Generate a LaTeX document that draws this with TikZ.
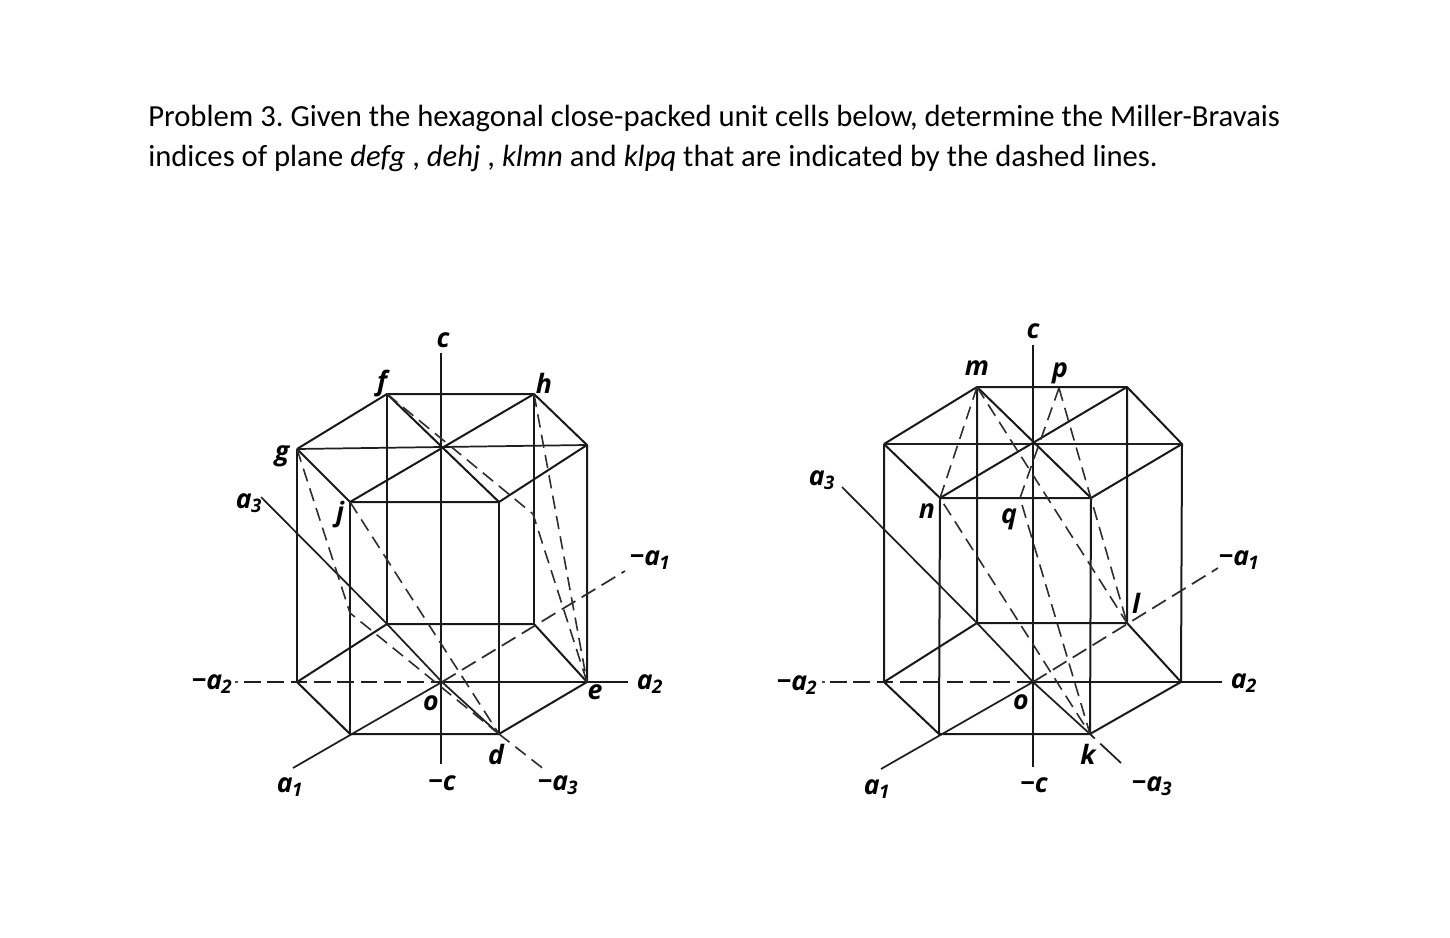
\documentclass[tikz,border=0pt]{standalone}
\usepackage{fontspec}
\setmainfont{Carlito}
\newfontfamily\lblfont[ItalicFont={Open Sans Bold Italic},BoldItalicFont={Open Sans Bold Italic}]{Open Sans}
\newcommand{\axl}[2]{{\lblfont\itshape\fontsize{20pt}{22pt}\selectfont #1\textsubscript{\kern-0.5pt#2}}}
\frenchspacing
\begin{document}
\begin{tikzpicture}[x=0.75pt,y=-0.75pt,
  edge/.style={line width=1.5pt,color=black!90,line join=miter},
  thin edge/.style={line width=1.3pt,color=black!88},
  dash edge/.style={line width=1.2pt,color=black!82,dash pattern=on 10pt off 5.5pt},
  long dash/.style={line width=1.3pt,color=black!82,dash pattern=on 12pt off 5.5pt},
  axis dash/.style={line width=1.4pt,color=black!88,dash pattern=on 12.5pt off 5pt},
  lbl/.style={inner sep=0pt,font=\fontsize{20pt}{22pt}\selectfont\lblfont\itshape},
  title line/.style={anchor=base west,inner sep=0pt,font=\fontsize{23pt}{27pt}\selectfont}]
\useasboundingbox (0,0) rectangle (1450,938);
\fill[white] (0,0) rectangle (1450,938);
\node[title line] (t1) at (148,127) {Problem 3. Given the hexagonal close-packed unit cells below, determine the Miller-Bravais};
\node[title line] (t2) at (148,167) {indices of plane \textit{defg} , \textit{dehj} , \textit{klmn} and \textit{klpq} that are indicated by the dashed lines.};

% ---- left cell
\coordinate (f) at (387,394); \coordinate (h) at (534,394);
\coordinate (g) at (297,449); \coordinate (tr) at (587,445);
\coordinate (j) at (350,502); \coordinate (tf) at (499,502);
\coordinate (tc) at (442,447);
\coordinate (bl) at (387,624); \coordinate (br) at (534,624);
\coordinate (bg) at (297,682); \coordinate (o) at (442,682); \coordinate (e) at (587,682);
\coordinate (bj) at (350,734); \coordinate (d) at (499,734);
\coordinate (ct) at (441,353); \coordinate (cb) at (441,764);
\coordinate (a1e) at (293,768); \coordinate (a2e) at (628,682);
\coordinate (ma2) at (244,682); \coordinate (ma2d) at (235,682); \coordinate (ma2f) at (238,682);
\coordinate (ma1) at (625,571); \coordinate (a3e) at (261,497); \coordinate (ma3) at (545,770);
\coordinate (fb) at (533,514); \coordinate (gb) at (350,613);

\draw[edge] (g) -- (f) -- (h) -- (tr) -- (e);
\draw[edge] (g) -- (j) -- (tf) -- (tr);
\draw[thin edge] (g) -- (tr);
\draw[edge] (f) -- (tf) (j) -- (h);
\draw[edge] (g) -- (bg) (f) -- (bl) (h) -- (br) (j) -- (bj) (tf) -- (d);
\draw[edge] (bl) -- (br) -- (e) -- (d) -- (bj) -- (bg) -- (bl);
\draw[edge] (ct) -- (cb);
\draw[edge] (o) -- (a2e);
\draw[thin edge] (a1e) -- (o);
\draw[thin edge] (a3e) -- (bl) -- (o) -- (d);
\draw[axis dash] (ma2) -- (o);
\draw[line width=0.8pt,color=black!70] (ma2d) -- (ma2f);
\draw[long dash] (o) -- (ma1);
\draw[dash edge] (d) -- (ma3);
\draw[dash edge] (f) -- (fb) -- (e);
\draw[dash edge] (h) -- (e);
\draw[dash edge] (g) -- (gb) -- (d);
\draw[dash edge] (j) -- (d);

\node[lbl] (Lc) at (443,340) {c};
\node[lbl] (Lf) at (382,384) {f};
\node[lbl] (Lh) at (544,383) {h};
\node[lbl] (Lg) at (282,456) {g};
\node[lbl] (Lj) at (340,515) {j};
\node[lbl] (La3) at (249,503) {\axl{a}{3}};
\node[lbl] (Lma1) at (650,560) {\axl{−a}{1}};
\node[lbl] (Lma2) at (212,684) {\axl{−a}{2}};
\node[lbl] (La2) at (650,684) {\axl{a}{2}};
\node[lbl] (Lo) at (431,703) {o};
\node[lbl] (Le) at (595,692) {e};
\node[lbl] (Ld) at (496,754) {d};
\node[lbl] (La1) at (290,787) {\axl{a}{1}};
\node[lbl] (Lmc) at (442,783) {−c};
\node[lbl] (Lma3) at (558,785) {\axl{−a}{3}};

% ---- right cell
\coordinate (m) at (977,387); \coordinate (r1) at (1127,387);
\coordinate (r2) at (884,444); \coordinate (r3) at (1182,444);
\coordinate (n) at (940,498); \coordinate (r4) at (1091,498);
\coordinate (rc) at (1033,444);
\coordinate (r5) at (977,623); \coordinate (l) at (1127,623);
\coordinate (r6) at (884,682); \coordinate (ro) at (1033,682); \coordinate (r7) at (1181,682);
\coordinate (r8) at (939,734); \coordinate (k) at (1090,734);
\coordinate (rct) at (1033,345); \coordinate (rcb) at (1033,767);
\coordinate (ra1e) at (881,769); \coordinate (ra2e) at (1222,682);
\coordinate (rma2) at (830,682); \coordinate (rma2d) at (822,682); \coordinate (rma2f) at (825,682);
\coordinate (rma1) at (1218,568); \coordinate (ra3e) at (842,487);
\coordinate (rma3) at (1121,763);
\coordinate (p) at (1059,388); \coordinate (q) at (1020,498);

\draw[edge] (r2) -- (m) -- (r1) -- (r3) -- (r7);
\draw[edge] (r2) -- (n) -- (r4) -- (r3);
\draw[thin edge] (r2) -- (r3);
\draw[edge] (m) -- (r4) (n) -- (r1);
\draw[edge] (r2) -- (r6) (m) -- (r5) (r1) -- (l) (n) -- (r8) (r4) -- (k);
\draw[edge] (r5) -- (l) -- (r7) -- (k) -- (r8) -- (r6) -- (r5);
\draw[edge] (rct) -- (rcb);
\draw[edge] (ro) -- (ra2e);
\draw[thin edge] (ra1e) -- (ro);
\draw[thin edge] (ra3e) -- (r5) -- (ro) -- (k);
\draw[thin edge,dash pattern=on 5pt off 5.5pt on 30pt] (k) -- (rma3);
\draw[axis dash] (rma2) -- (ro);
\draw[line width=0.8pt,color=black!70] (rma2d) -- (rma2f);
\draw[long dash] (ro) -- (rma1);
\draw[dash edge] (m) -- (n) -- (k);
\draw[dash edge] (m) -- (l);
\draw[dash edge] (p) -- (l);
\draw[dash edge] (p) -- (q) -- (k);

\node[lbl] (Rc) at (1033,331) {c};
\node[lbl] (Rm) at (977,368) {m};
\node[lbl] (Rp) at (1060,373) {p};
\node[lbl] (Ra3) at (822,480) {\axl{a}{3}};
\node[lbl] (Rn) at (927,511) {n};
\node[lbl] (Rq) at (1009,519) {q};
\node[lbl] (Rma1) at (1239,560) {\axl{−a}{1}};
\node[lbl] (Rl) at (1136,603) {l};
\node[lbl] (Rma2) at (797,685) {\axl{−a}{2}};
\node[lbl] (Ro) at (1021,702) {o};
\node[lbl] (Ra2) at (1244,683) {\axl{a}{2}};
\node[lbl] (Rk) at (1088,754) {k};
\node[lbl] (Ra1) at (877,789) {\axl{a}{1}};
\node[lbl] (Rmc) at (1034,785) {−c};
\node[lbl] (Rma3) at (1152,786) {\axl{−a}{3}};
\end{tikzpicture}
\end{document}
